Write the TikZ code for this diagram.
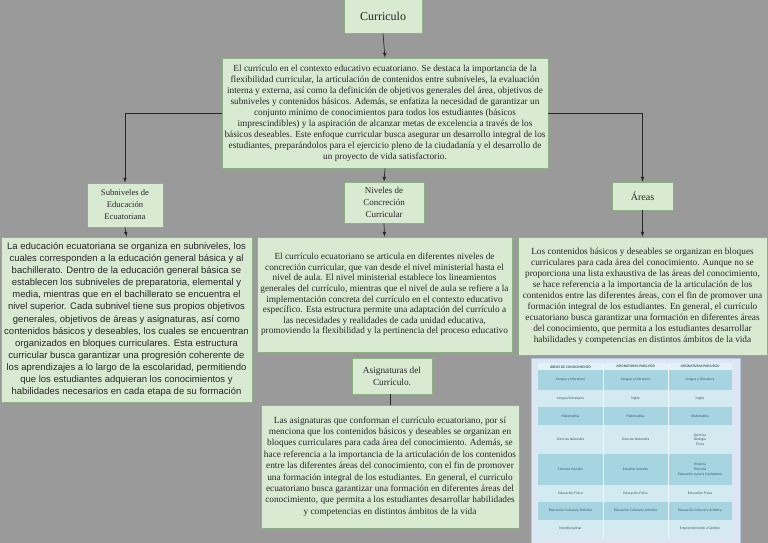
\documentclass[tikz,border=0pt]{standalone}
\usepackage{fontspec}
\setmainfont{Liberation Serif}
\newfontfamily\arialfont{Liberation Sans}
\newfontfamily\tablafont{Carlito}
\definecolor{fondo}{HTML}{9A9A9A}
\definecolor{verdecaja}{HTML}{D9EAD3}
\definecolor{bordecaja}{HTML}{8DB083}
\definecolor{filaosc}{HTML}{A6D4E1}
\definecolor{filacl}{HTML}{D3EAF1}
\definecolor{filacab}{HTML}{E3F2F6}
\definecolor{marco}{HTML}{DDE7F4}
\definecolor{bordemarco}{HTML}{B4C6E2}
\definecolor{textotab}{HTML}{3E5C6B}
\begin{document}
\begin{tikzpicture}[x=1pt,y=-1pt,
    caja/.style={draw=bordecaja,fill=verdecaja,line width=0.8pt,inner sep=0pt,align=center,text=black!85},
    titulo/.style={caja,font=\fontsize{9}{12}\selectfont},
    parrafo/.style={caja,font=\fontsize{9.3}{11}\selectfont},
    parrafosans/.style={caja,font=\arialfont\fontsize{9.5}{12.1}\selectfont},
    celda/.style={inner sep=0pt,align=center,text=textotab,font=\tablafont\fontsize{3.7}{4.7}\selectfont},
    flecha/.style={-latex,black!85,line width=0.65pt}]

    %fondo
    \fill[fondo] (0,0) rectangle (768,543);
    \useasboundingbox (0,0) rectangle (768,543);

    %titulo e introduccion
    \node[titulo,font=\fontsize{12}{14}\selectfont,minimum width=78,minimum height=34] (curr) at (383,16) {Curriculo};
    \node[parrafo,minimum width=326,minimum height=110] (intro) at (385,113)
        {El currículo en el contexto educativo ecuatoriano. Se destaca la importancia de la\\
         flexibilidad curricular, la articulación de contenidos entre subniveles, la evaluación\\
         interna y externa, así como la definición de objetivos generales del área, objetivos de\\
         subniveles y contenidos básicos. Además, se enfatiza la necesidad de garantizar un\\
         conjunto mínimo de conocimientos para todos los estudiantes (básicos\\
         imprescindibles) y la aspiración de alcanzar metas de excelencia a través de los\\
         básicos deseables. Este enfoque curricular busca asegurar un desarrollo integral de los\\
         estudiantes, preparándolos para el ejercicio pleno de la ciudadanía y el desarrollo de\\
         un proyecto de vida satisfactorio.};

    %subniveles
    \node[titulo,font=\fontsize{8.6}{12}\selectfont,minimum width=76,minimum height=44] (subniv) at (125,205)
        {Subniveles de\\Educación\\Ecuatoriana};
    \node[parrafosans,minimum width=251,minimum height=165] (subnivtxt) at (126.5,319.5)
        {La educación ecuatoriana se organiza en subniveles, los\\
         cuales corresponden a la educación general básica y al\\
         bachillerato. Dentro de la educación general básica se\\
         establecen los subniveles de preparatoria, elemental y\\
         media, mientras que en el bachillerato se encuentra el\\
         nivel superior. Cada subnivel tiene sus propios objetivos\\
         generales, objetivos de áreas y asignaturas, así como\\
         contenidos básicos y deseables, los cuales se encuentran\\
         organizados en bloques curriculares. Esta estructura\\
         curricular busca garantizar una progresión coherente de\\
         los aprendizajes a lo largo de la escolaridad, permitiendo\\
         que los estudiantes adquieran los conocimientos y\\
         habilidades necesarios en cada etapa de su formación};

    %niveles
    \node[titulo,minimum width=80,minimum height=41] (niv) at (384,202.5)
        {Niveles de\\Concreción\\Curricular};
    \node[parrafo,font=\fontsize{9.3}{10.6}\selectfont,minimum width=255,minimum height=115] (nivtxt) at (384.5,294.5)
        {El currículo ecuatoriano se articula en diferentes niveles de\\
         concreción curricular, que van desde el nivel ministerial hasta el\\
         nivel de aula. El nivel ministerial establece los lineamientos\\
         generales del currículo, mientras que el nivel de aula se refiere a la\\
         implementación concreta del currículo en el contexto educativo\\
         específico. Esta estructura permite una adaptación del currículo a\\
         las necesidades y realidades de cada unidad educativa,\\
         promoviendo la flexibilidad y la pertinencia del proceso educativo};

    %areas
    \node[titulo,font=\fontsize{10}{12}\selectfont,minimum width=61,minimum height=28] (areas) at (642.5,196) {Áreas};
    \node[parrafo,minimum width=249,minimum height=118] (areastxt) at (642.5,296)
        {Los contenidos básicos y deseables se organizan en bloques\\
         curriculares para cada área del conocimiento. Aunque no se\\
         proporciona una lista exhaustiva de las áreas del conocimiento,\\
         se hace referencia a la importancia de la articulación de los\\
         contenidos entre las diferentes áreas, con el fin de promover una\\
         formación integral de los estudiantes. En general, el currículo\\
         ecuatoriano busca garantizar una formación en diferentes áreas\\
         del conocimiento, que permita a los estudiantes desarrollar\\
         habilidades y competencias en distintos ámbitos de la vida};

    %asignaturas
    \node[titulo,font=\fontsize{9.3}{12}\selectfont,minimum width=80,minimum height=36] (asig) at (392,376)
        {Asignaturas del\\Currículo.};
    \node[parrafo,font=\fontsize{9.3}{11.4}\selectfont,minimum width=258,minimum height=123] (asigtxt) at (390,466.5)
        {Las asignaturas que conforman el currículo ecuatoriano, por sí\\
         menciona que los contenidos básicos y deseables se organizan en\\
         bloques curriculares para cada área del conocimiento. Además, se\\
         hace referencia a la importancia de la articulación de los contenidos\\
         entre las diferentes áreas del conocimiento, con el fin de promover\\
         una formación integral de los estudiantes. En general, el currículo\\
         ecuatoriano busca garantizar una formación en diferentes áreas del\\
         conocimiento, que permita a los estudiantes desarrollar habilidades\\
         y competencias en distintos ámbitos de la vida};

    %flechas
    \draw[flecha] (curr.south)--(intro.north);
    \draw[flecha] (intro.west)-|(subniv.north);
    \draw[flecha] (intro.south)--(niv.north);
    \draw[flecha] (intro.east)-|(areas.north);
    \draw[flecha] (subniv.south)--(subnivtxt.north);
    \draw[flecha] (niv.south)--(nivtxt.north);
    \draw[flecha] (areas.south)--(areastxt.north);
    \draw[black!85,line width=0.65pt] (asigtxt.north|-asig.south)--(asigtxt.north);

    %tabla de asignaturas
    \filldraw[fill=marco,draw=bordemarco,line width=0.6pt] (531,358) rectangle (740,545);
    \fill[filacab] (538,363) rectangle (732,370);
    \node[celda,font=\tablafont\bfseries\fontsize{3.7}{4.7}\selectfont] (cab1) at (570.5,366.5) {ÁREAS DE CONOCIMIENTO};
    \node[celda,font=\tablafont\bfseries\fontsize{3.7}{4.7}\selectfont] (cab2) at (635.5,366.5) {ASIGNATURAS PARA EGB};
    \node[celda,font=\tablafont\bfseries\fontsize{3.7}{4.7}\selectfont] (cab3) at (700,366.5) {ASIGNATURAS PARA BGU};
    \foreach \ya/\yb/\col/\ta/\tb/\tc in {
        370/390/filaosc/{Lengua y Literatura}/{Lengua y Literatura}/{Lengua y Literatura},
        390/407/filacl/{Lengua Extranjera}/{Inglés}/{Inglés},
        407/425/filaosc/{Matemática}/{Matemática}/{Matemática},
        425/454/filacl/{Ciencias Naturales}/{Ciencias Naturales}/{Química\\Biología\\Física},
        454/485/filaosc/{Ciencias Sociales}/{Estudios Sociales}/{Historia\\Filosofía\\Educación para la Ciudadanía},
        485/502/filacl/{Educación Física}/{Educación Física}/{Educación Física},
        502/520/filaosc/{Educación Cultural y Artística}/{Educación Cultural y Artística}/{Educación Cultural y Artística},
        520/538/filacl/{Interdisciplinar}/{}/{Emprendimiento y Gestión}}
    {
        \fill[\col] (538,\ya) rectangle (732,\yb);
        \node[celda] (f\ya a) at (570.5,{(\ya+\yb)/2}) {\ta};
        \node[celda] (f\ya b) at (635.5,{(\ya+\yb)/2}) {\tb};
        \node[celda] (f\ya c) at (700,{(\ya+\yb)/2}) {\tc};
    }
    \draw[white!60!filacl,line width=0.4pt] (603,363)--(603,538) (668,363)--(668,538);
\end{tikzpicture}
\end{document}
